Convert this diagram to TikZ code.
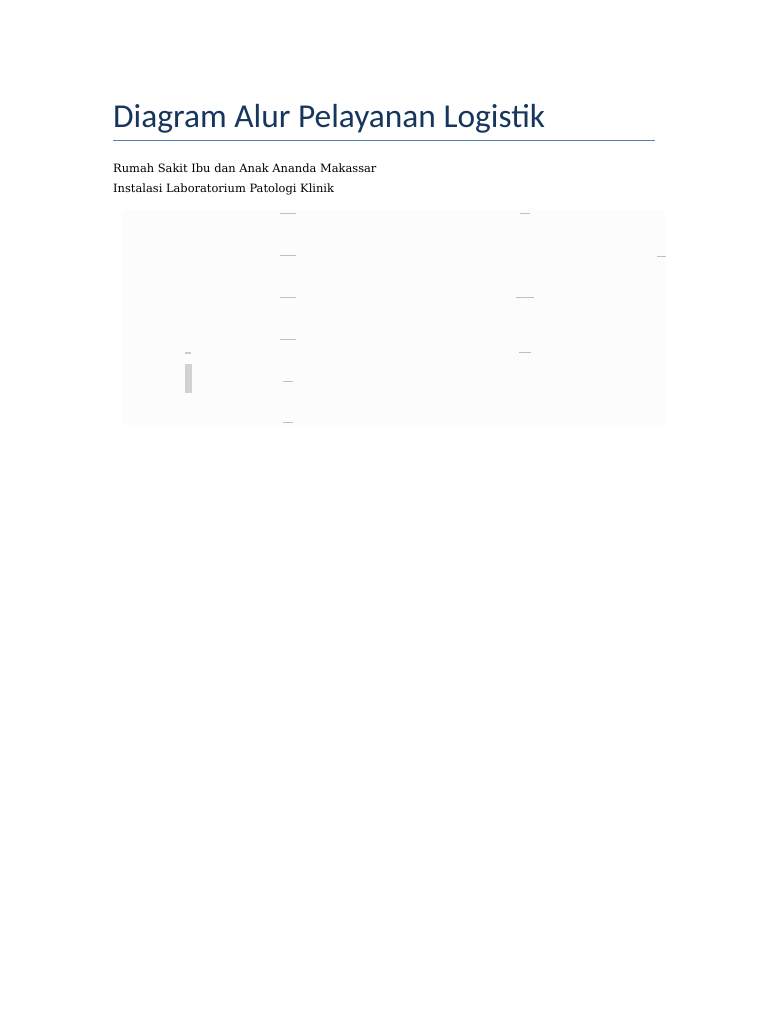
\documentclass[tikz,border=0pt]{standalone}
\usepackage{fontspec}
\setmainfont{DejaVu Serif}
\newfontfamily\titlefont{Carlito}
\usetikzlibrary{positioning}
\definecolor{titleblue}{HTML}{17365D}
\definecolor{ruleblue}{HTML}{4F81BD}
\definecolor{panelgray}{HTML}{FCFCFC}
\definecolor{markgray}{HTML}{BFBFBF}
\tikzset{
  tinylbl/.style={fill=markgray,inner sep=0pt,minimum width=16bp,minimum height=0.8bp},
}

\begin{document}
\begin{tikzpicture}[x=1bp,y=-1bp]
    \useasboundingbox (0,0) rectangle (768,1024);
    \fill[white] (0,0) rectangle (768,1024);
    % heading
    \node[anchor=base west,inner sep=0pt,text=titleblue,font=\titlefont\fontsize{33.4bp}{38bp}\selectfont]
      (title) at (113,127) {Diagram Alur Pelayanan Logistik};
    \draw[ruleblue,line width=0.9bp] (113,140) coordinate(rl) -- (655,140) coordinate(rr);
    \node[anchor=base west,inner sep=0pt,font=\fontsize{11.45bp}{15bp}\selectfont]
      (org) at (113,172) {Rumah Sakit Ibu dan Anak Ananda Makassar};
    \node[anchor=base west,inner sep=0pt,font=\fontsize{11.45bp}{15bp}\selectfont]
      (unit) at (113,192) {Instalasi Laboratorium Patologi Klinik};
    % faint flow chart
    \fill[panelgray] (123,210) rectangle (665,425);
    \draw
    (288,213) node[tinylbl](A1){}
    (288,255) node[tinylbl](A2){}
    (288,297) node[tinylbl](A3){}
    (288,339) node[tinylbl](A4){}
    (288,381) node[tinylbl,minimum width=10bp](A5){}
    (288,422) node[tinylbl,minimum width=10bp](A6){}
    (525,213) node[tinylbl,minimum width=10bp](B1){}
    (525,297) node[tinylbl,minimum width=18bp](B2){}
    (525,352) node[tinylbl,minimum width=12bp](B3){}
    (661,256) node[tinylbl,minimum width=9bp](C1){};
    \node[fill=markgray!80,inner sep=0pt,minimum width=6bp,minimum height=2bp] (lt) at (188,353) {};
    \node[fill=markgray!70,inner sep=0pt,minimum width=7bp,minimum height=29bp,below=10bp of lt] (lb) {};
  \end{tikzpicture}
\end{document}
